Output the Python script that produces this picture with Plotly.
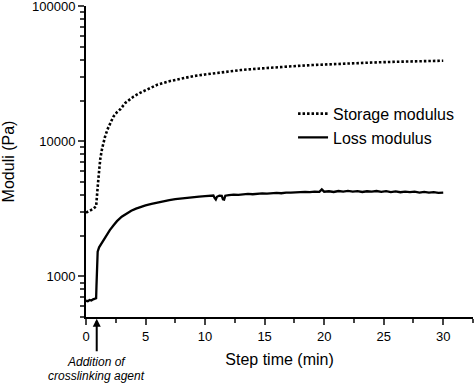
import plotly.graph_objects as go

# Storage modulus (dotted)
storage_t = [0.0, 0.3, 0.6, 0.85, 0.9, 1.0, 1.1, 1.2, 1.35, 1.5, 1.6, 1.8, 2.0, 2.3, 2.6, 2.9,
             3.3, 4.0, 4.5, 5.0, 6.0, 7.0, 8.0, 9.0, 10.0, 11.0, 12.0, 13.0, 14.0, 15.0, 16.0,
             17.0, 18.0, 19.0, 20.0, 22.0, 24.0, 26.0, 28.0, 30.0]
storage_g = [2960, 3050, 3150, 3300, 4000, 4800, 6000, 7400, 8800, 10000, 10800, 12200, 13500,
             15200, 16400, 17300, 19200, 21400, 22700, 23800, 26200, 27800, 29200, 30300, 31200,
             32100, 32900, 33600, 34200, 34800, 35300, 35800, 36200, 36600, 37000, 37600, 38200,
             38700, 39100, 39400]

# Loss modulus (solid)
loss_t = [0.0, 0.15, 0.3, 0.45, 0.6, 0.75, 0.85, 0.88, 0.91, 0.94, 0.98, 1.1, 1.3, 1.5, 1.75,
          2.0, 2.3, 2.6, 3.0, 3.4, 3.8, 4.2, 4.6, 5.0, 5.5, 6.0, 6.5, 7.0, 7.5, 8.0, 8.5, 9.0,
          9.5, 10.0, 10.4, 10.7, 10.8, 10.9, 11.0, 11.2, 11.4, 11.5, 11.6, 11.7, 12.0, 12.4,
          12.8, 13.2, 13.6, 14.0, 14.4, 14.8, 15.2, 15.6, 16.0, 16.4, 16.8, 17.2, 17.6, 18.0,
          18.4, 18.8, 19.2, 19.6, 19.8, 20.0, 20.4, 20.8, 21.2, 21.6, 22.0, 22.4, 22.8, 23.2,
          23.6, 24.0, 24.4, 24.8, 25.2, 25.6, 26.0, 26.4, 26.8, 27.2, 27.6, 28.0, 28.4, 28.8,
          29.2, 29.6, 30.0]
loss_g = [660, 655, 668, 662, 675, 680, 688, 850, 1150, 1400, 1520, 1640, 1760, 1880, 2040,
          2200, 2380, 2560, 2760, 2920, 3060, 3170, 3270, 3350, 3440, 3520, 3590, 3660, 3720,
          3770, 3820, 3860, 3890, 3920, 3950, 3960, 3800, 3700, 3880, 3960, 3940, 3720, 3700,
          3950, 3990, 4030, 4010, 4060, 4080, 4050, 4100, 4110, 4090, 4130, 4150, 4120, 4170,
          4160, 4190, 4170, 4210, 4200, 4240, 4220, 4400, 4230, 4260, 4210, 4280, 4240, 4290,
          4230, 4270, 4210, 4260, 4230, 4280, 4220, 4270, 4200, 4250, 4190, 4240, 4200, 4230,
          4170, 4220, 4160, 4200, 4150, 4170]

y_tickvals = [1000, 10000, 100000]
y_ticktext = ["1000", "10000", "100000"]
x_tickvals = [0, 5, 10, 15, 20, 25, 30]

FONT = "Arial, Liberation Sans, sans-serif"

fig = go.Figure()
fig.add_trace(go.Scatter(x=storage_t, y=storage_g, mode="lines", name="Storage modulus",
                         line=dict(color="black", width=2.6, dash="2.5px,2px")))
fig.add_trace(go.Scatter(x=loss_t, y=loss_g, mode="lines", name="Loss modulus",
                         line=dict(color="black", width=2.3)))

fig.update_layout(
    width=474, height=384,
    margin=dict(l=86, r=1, t=6, b=67),
    paper_bgcolor="white", plot_bgcolor="white",
    font=dict(family=FONT, color="black", size=13),
    showlegend=True,
    legend=dict(x=0.535, y=0.615, xanchor="left", yanchor="middle",
                bgcolor="rgba(0,0,0,0)", font=dict(size=16, family=FONT),
                itemwidth=30, tracegroupgap=0),
)
fig.update_xaxes(range=[0, 32.5], tickvals=x_tickvals, ticks="outside", ticklen=6,
                 tickwidth=1.6, showline=True, linewidth=2, linecolor="black",
                 showgrid=False, zeroline=False, tickfont=dict(size=13), automargin=False,
                 ticklabeloverflow="allow",
                 minor=dict(dtick=2.5, tick0=0, ticks="outside", ticklen=4, tickwidth=1.6),
                 title=dict(text="Step time (min)", font=dict(size=16), standoff=11))
fig.update_yaxes(type="log", range=[2.699, 5.0005], tickvals=y_tickvals, ticktext=y_ticktext,
                 ticks="outside", ticklen=6, tickwidth=1.6, showline=True, linewidth=2,
                 linecolor="black", showgrid=False, zeroline=False, tickfont=dict(size=13),
                 automargin=False, ticklabeloverflow="allow",
                 minor=dict(dtick="D1", ticks="outside", ticklen=4, tickwidth=1.6),
                 title=dict(text="Moduli (Pa)", font=dict(size=16), standoff=21))

# Arrow marking addition of crosslinking agent
fig.add_annotation(x=0.9, xref="x", y=-0.006, yref="paper", text="", showarrow=True,
                   ax=0, ay=34, axref="pixel", ayref="pixel", arrowhead=2, arrowsize=0.8,
                   arrowwidth=2, arrowcolor="black")
fig.add_annotation(x=0.9, xref="x", y=-0.146, yref="paper", text="Addition of",
                   showarrow=False, xanchor="center", yanchor="middle",
                   font=dict(size=12, family=FONT, style="italic"))
fig.add_annotation(x=0.9, xref="x", y=-0.191, yref="paper", text="crosslinking agent",
                   showarrow=False, xanchor="center", yanchor="middle",
                   font=dict(size=12, family=FONT, style="italic"))

fig.write_html("out.html", config={"displayModeBar": False},
               post_script="document.body.style.margin='0';document.body.style.padding='0';"
                           "document.body.style.overflow='hidden';")
